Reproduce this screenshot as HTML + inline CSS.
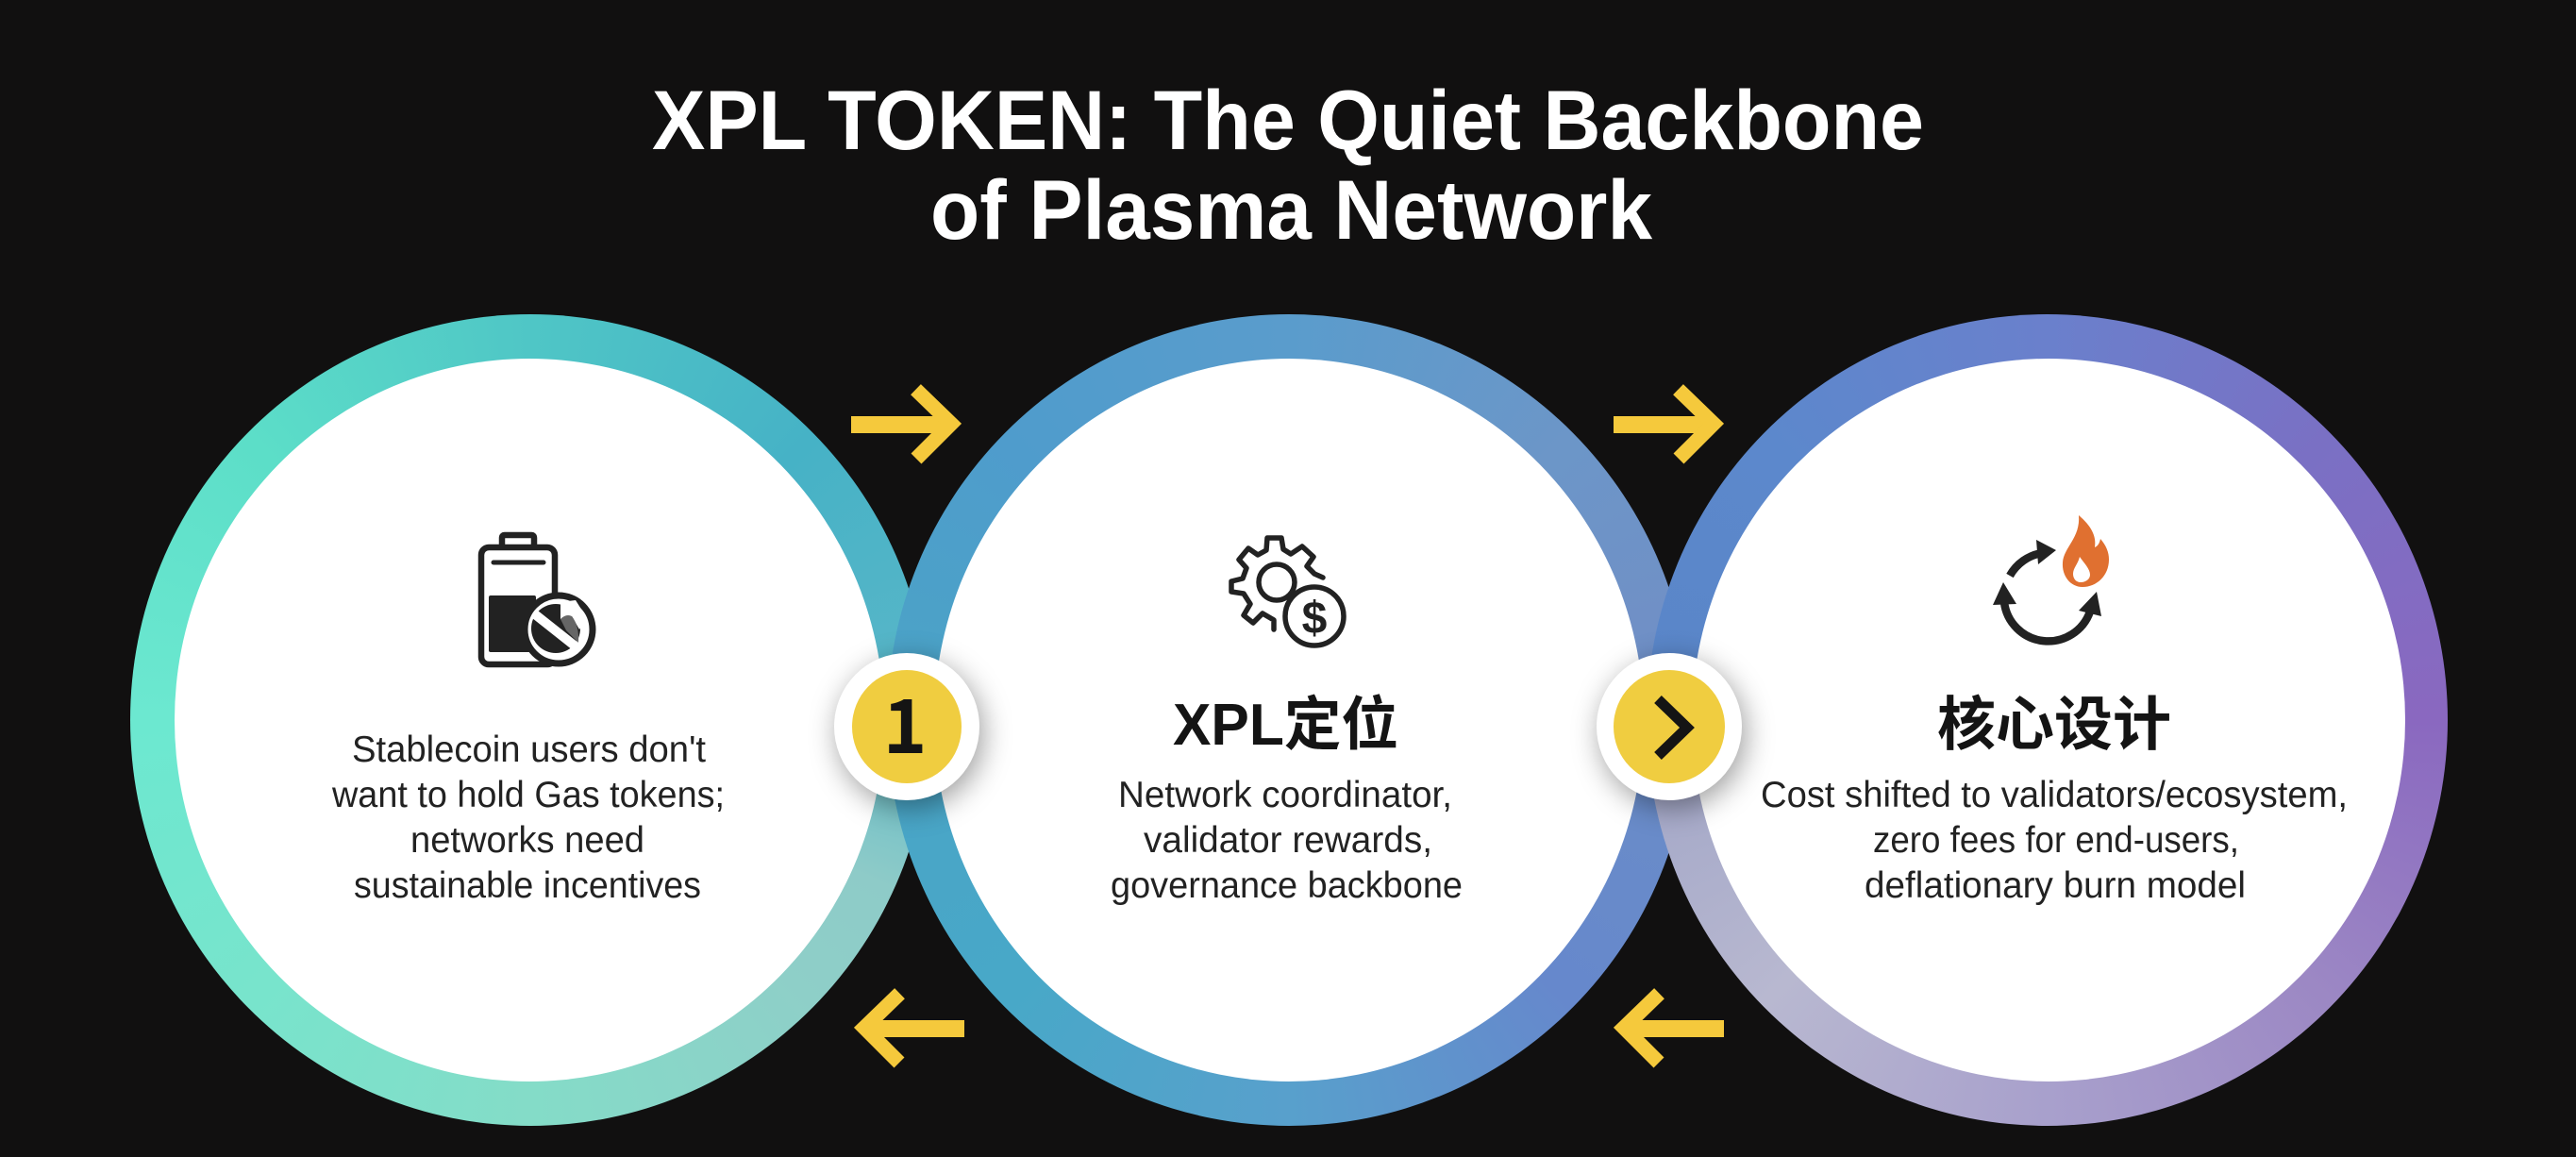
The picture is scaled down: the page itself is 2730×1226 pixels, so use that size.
<!DOCTYPE html>
<html><head><meta charset="utf-8"><style>
html,body{margin:0;padding:0;background:#111010}
#p{position:relative;width:2730px;height:1226px;overflow:hidden;background:#111010}
.c{position:absolute;border-radius:50%}
svg{position:absolute;left:0;top:0}
text{font-family:"Liberation Sans","Noto Sans CJK SC",sans-serif}
</style></head><body><div id="p">
<div class="c" style="left:138px;top:333px;width:848px;height:860px;background:conic-gradient(#4fc6c6 0deg,#46b2c6 45deg,#58b6c8 85deg,#8ecbc8 115deg,#8ecfc8 135deg,#84dcc8 180deg,#78e4cc 225deg,#6ce8d0 270deg,#5cdec8 315deg,#4fc6c6 360deg)"></div>
<div class="c" style="left:940px;top:333px;width:852px;height:860px;background:conic-gradient(#5a9ccc 0deg,#6c96c8 45deg,#7090c6 75deg,#6a8cc8 100deg,#6688cc 135deg,#58a0cc 180deg,#48a8c8 225deg,#4aa4c6 270deg,#4f9ccc 315deg,#5a9ccc 360deg)"></div>
<div class="c" style="left:1745px;top:333px;width:849px;height:860px;background:conic-gradient(#6a80cc 0deg,#7a70c4 45deg,#8a68c0 90deg,#9c88c4 135deg,#a8a0cc 180deg,#b8b8d0 225deg,#a4a8c8 262deg,#5a86c8 276deg,#5c88cc 315deg,#6a80cc 360deg)"></div>
<div class="c" style="left:185px;top:380px;width:752px;height:766px;background:#fff"></div>
<div class="c" style="left:990px;top:380px;width:752px;height:766px;background:#fff"></div>
<div class="c" style="left:1793px;top:380px;width:756px;height:766px;background:#fff"></div>
<div class="c" style="left:884px;top:692px;width:154px;height:156px;background:#fff;box-shadow:4px 8px 30px rgba(0,0,0,.38)"></div>
<div class="c" style="left:903px;top:710px;width:116px;height:120px;background:#f0cd40"></div>
<div class="c" style="left:1692px;top:692px;width:154px;height:156px;background:#fff;box-shadow:4px 8px 30px rgba(0,0,0,.38)"></div>
<div class="c" style="left:1710px;top:710px;width:118px;height:120px;background:#f0cd40"></div>
<svg width="2730" height="1226" viewBox="0 0 2730 1226" xmlns="http://www.w3.org/2000/svg">
<g fill="#fff" font-weight="700" font-size="89">
<text x="691" y="158" textLength="1348" lengthAdjust="spacingAndGlyphs">XPL TOKEN: The Quiet Backbone</text>
<text x="986" y="253" textLength="765" lengthAdjust="spacingAndGlyphs">of Plasma Network</text>
</g>
<g fill="#222" font-size="39">
<text x="373" y="807" textLength="375" lengthAdjust="spacingAndGlyphs">Stablecoin users don't</text>
<text x="352" y="855" textLength="416" lengthAdjust="spacingAndGlyphs">want to hold Gas tokens;</text>
<text x="435" y="903" textLength="248" lengthAdjust="spacingAndGlyphs">networks need</text>
<text x="375" y="951" textLength="368" lengthAdjust="spacingAndGlyphs">sustainable incentives</text>
<text x="1185" y="855" textLength="354" lengthAdjust="spacingAndGlyphs">Network coordinator,</text>
<text x="1212" y="903" textLength="306" lengthAdjust="spacingAndGlyphs">validator rewards,</text>
<text x="1177" y="951" textLength="373" lengthAdjust="spacingAndGlyphs">governance backbone</text>
<text x="1866" y="855" textLength="622" lengthAdjust="spacingAndGlyphs">Cost shifted to validators/ecosystem,</text>
<text x="1985" y="903" textLength="388" lengthAdjust="spacingAndGlyphs">zero fees for end-users,</text>
<text x="1976" y="951" textLength="404" lengthAdjust="spacingAndGlyphs">deflationary burn model</text>
</g>
<g fill="#141414" font-weight="700" font-size="62">
<text x="1243" y="789" textLength="239" lengthAdjust="spacingAndGlyphs">XPL定位</text>
<text x="2053" y="789" textLength="248" lengthAdjust="spacingAndGlyphs">核心设计</text>
<text x="959" y="798" font-size="79" font-weight="700" text-anchor="middle" fill="#141414" style="font-family:'Noto Sans CJK SC',sans-serif">1</text>
</g>
<polyline points="1757,741 1788,771 1757,801" fill="none" stroke="#141414" stroke-width="11" stroke-linejoin="miter"/>
<g fill="none" stroke="#f5c93c" stroke-linejoin="miter">
<g><path d="M902 450H1002" stroke-width="18"/><path d="M970.5 412.7L1008 449L971 486" stroke-width="15.5"/></g>
<g transform="translate(808,0)"><path d="M902 450H1002" stroke-width="18"/><path d="M970.5 412.7L1008 449L971 486" stroke-width="15.5"/></g>
<g transform="translate(1924,640) scale(-1,1)"><path d="M902 450H1002" stroke-width="18"/><path d="M970.5 412.7L1008 449L971 486" stroke-width="15.5"/></g>
<g transform="translate(2729,640) scale(-1,1)"><path d="M902 450H1002" stroke-width="18"/><path d="M970.5 412.7L1008 449L971 486" stroke-width="15.5"/></g>
</g>
<!-- battery -->
<g fill="none" stroke="#222" stroke-width="6.5">
<rect x="510" y="580" width="78" height="124" rx="8"/>
<path d="M532 578V570q0-3 3-3H563q3 0 3 3V578"/>
<path d="M523 596H576" stroke-width="5" stroke-linecap="round"/>
</g>
<rect x="518" y="631" width="50" height="60" rx="2" fill="#222"/>
<circle cx="592" cy="667" r="36" fill="#fff" stroke="#222" stroke-width="7"/>
<circle cx="589" cy="666" r="26" fill="#222"/>
<path d="M594 638L594 656L606 653L614 667L622 655L610 636Z" fill="#fff"/>
<path d="M594 656Q600 650 606 653Q614 663 613 681L600 668Z" fill="#666"/>
<path d="M567 651L615 689" stroke="#fff" stroke-width="10"/>
<!-- gear -->
<g fill="none" stroke="#222" stroke-width="5.5" stroke-linejoin="round" stroke-linecap="round">
<path d="M1402 612L1393 608L1385 600L1392 590L1380 579L1368 587L1360 582L1358 570L1343 570L1342 583L1333 588L1323 581L1313 593L1321 602L1317 613L1305 616L1305 627L1318 629L1325 640L1318 652L1328 660L1338 650L1350 657L1350 667"/>
<circle cx="1353" cy="617" r="19"/>
<circle cx="1393" cy="653" r="31"/>
</g>
<text x="1393" y="671" font-size="48" font-weight="700" fill="#222" text-anchor="middle">$</text>
<!-- cycle -->
<g fill="none" stroke="#222" stroke-width="8.5">
<path d="M2130 610A48 48 0 0 1 2164 586"/>
<path d="M2124 638A47 47 0 0 0 2215 648"/>
</g>
<g fill="#222">
<path d="M2158 572L2179 583L2160 598Z"/>
<path d="M2123 617L2112 641L2137 640Z"/>
<path d="M2222 627L2203 647L2227 653Z"/>
</g>
<path d="M2203 546C2216 557 2222 568 2220 580C2224 578 2225 575 2226 571C2232 578 2235 585 2235 593C2235 610 2222 622 2207 622C2194 622 2185 610 2186 596C2187 580 2205 570 2203 546Z" fill="#e07030"/>
<path d="M2204 590C2209 597 2215 603 2215 609C2215 614 2210 617 2205 617C2200 617 2197 613 2197 608C2197 602 2202 598 2204 590Z" fill="#fff"/>
</svg>
</div></body></html>
